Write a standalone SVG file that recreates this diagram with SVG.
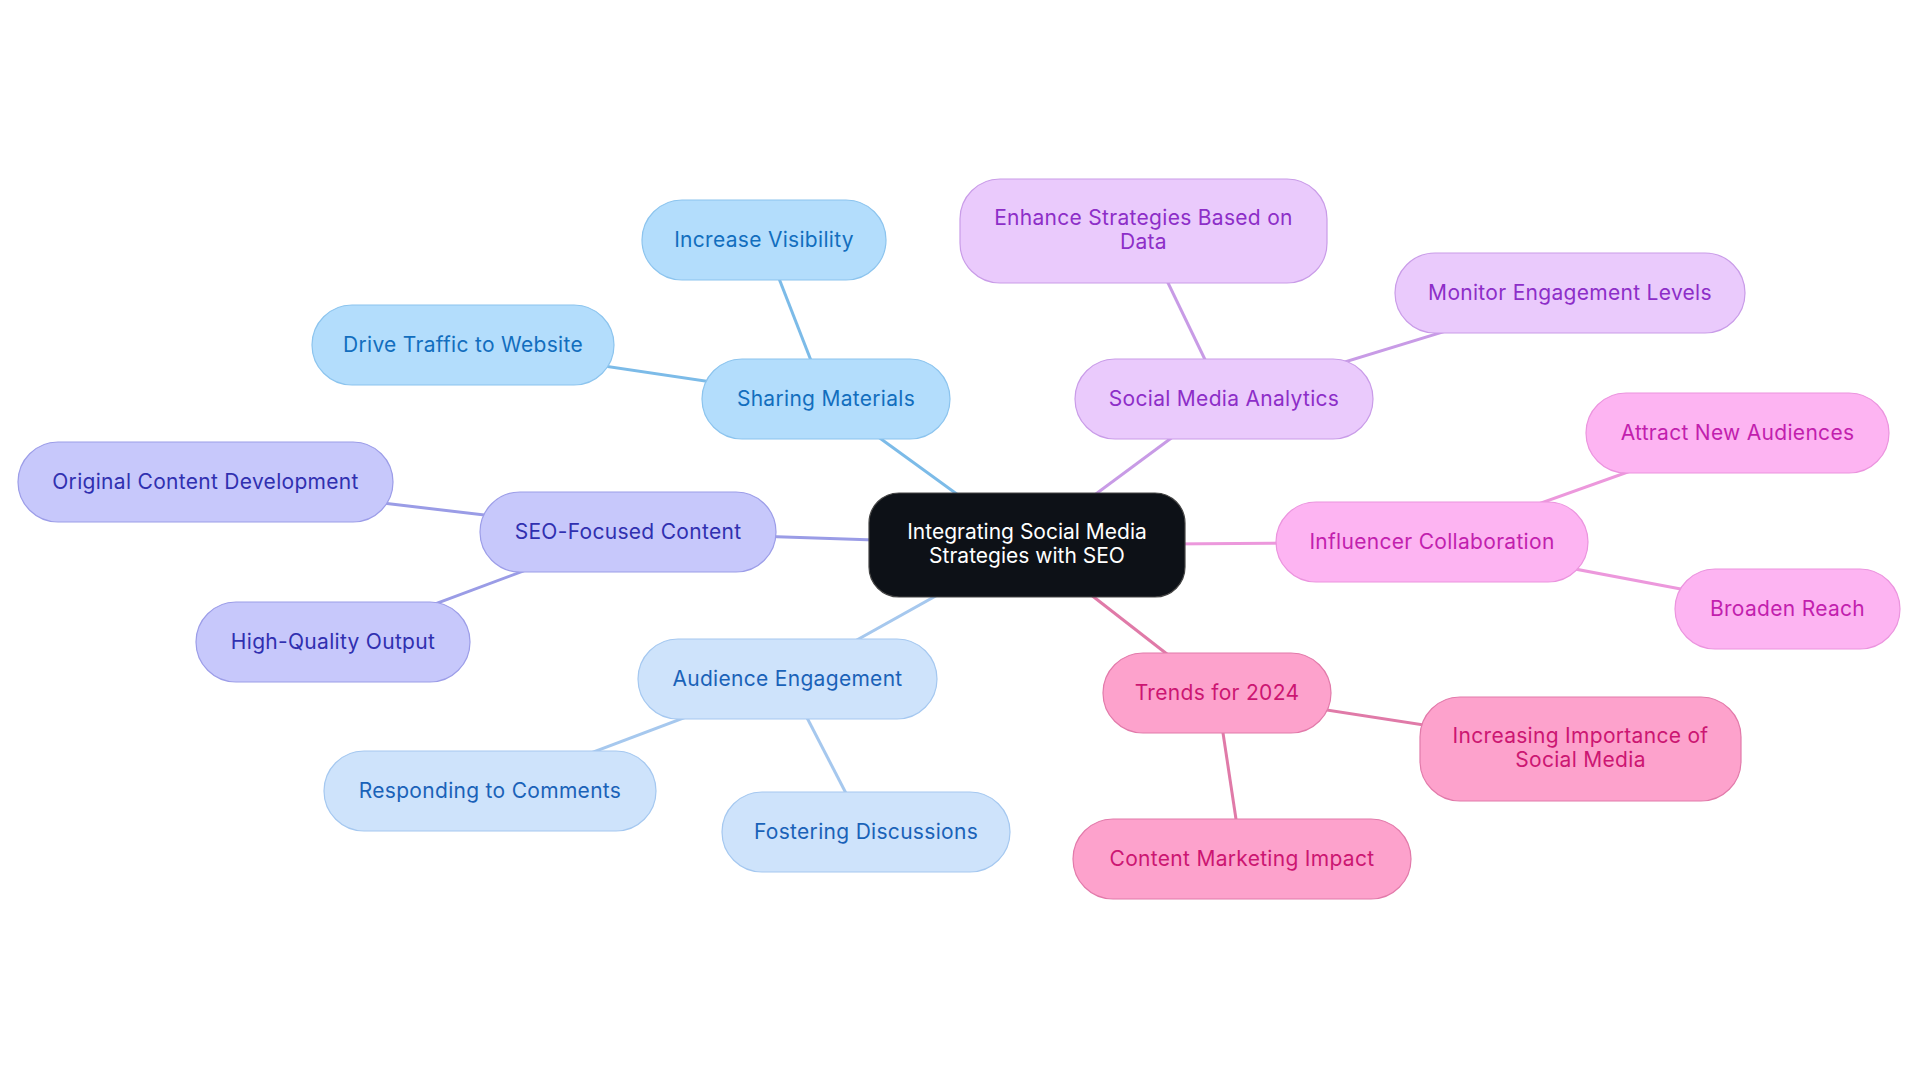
<svg xmlns="http://www.w3.org/2000/svg" width="1920" height="1083" viewBox="0 0 1920 1083">
<style>
text{font-family:Inter,"Noto Sans",sans-serif;font-size:21px;letter-spacing:0.3px;text-anchor:middle}
.edges line{stroke-width:3;fill:none}
.node rect{stroke-width:1.2}
.b rect{fill:#b3ddfc;stroke:#8cc4ee}.b text{fill:#126ebe}
.i rect{fill:#c7c8fb;stroke:#9c9de8}.i text{fill:#3030b0}
.l rect{fill:#cee3fb;stroke:#a5c8f0}.l text{fill:#1a62b8}
.p rect{fill:#eacafc;stroke:#c99ce8}.p text{fill:#8d2ec8}
.m rect{fill:#fdb4f2;stroke:#eb94de}.m text{fill:#c21fae}
.k rect{fill:#fda2cc;stroke:#e27aaa}.k text{fill:#cc1672}
.r rect{fill:#0d1117;stroke:#444}.r text{fill:#ffffff;font-size:21px;letter-spacing:0}
.eb{stroke:#7cbbe8}.ei{stroke:#9a9ce6}.el{stroke:#a6c8ee}.ep{stroke:#c89be6}.em{stroke:#ec98dc}.ek{stroke:#e07aa8}
</style>
<rect width="1920" height="1083" fill="#ffffff"/>
<g class="edges">
<line class="eb" x1="1027" y1="545" x2="826" y2="399"/>
<line class="eb" x1="826" y1="399" x2="764" y2="240"/>
<line class="eb" x1="826" y1="399" x2="463" y2="345"/>
<line class="ei" x1="1027" y1="545" x2="628" y2="532"/>
<line class="ei" x1="628" y1="532" x2="205" y2="482"/>
<line class="ei" x1="628" y1="532" x2="333" y2="642"/>
<line class="el" x1="1027" y1="545" x2="787" y2="679"/>
<line class="el" x1="787" y1="679" x2="490" y2="791"/>
<line class="el" x1="787" y1="679" x2="866" y2="832"/>
<line class="ep" x1="1027" y1="545" x2="1224" y2="399"/>
<line class="ep" x1="1224" y1="399" x2="1143" y2="231"/>
<line class="ep" x1="1224" y1="399" x2="1570" y2="293"/>
<line class="em" x1="1027" y1="545" x2="1432" y2="542"/>
<line class="em" x1="1432" y1="542" x2="1737" y2="433"/>
<line class="em" x1="1432" y1="542" x2="1787" y2="609"/>
<line class="ek" x1="1027" y1="545" x2="1217" y2="693"/>
<line class="ek" x1="1217" y1="693" x2="1580" y2="749"/>
<line class="ek" x1="1217" y1="693" x2="1242" y2="859"/>
</g>
<g id="root" class="node r"><rect x="869" y="493" width="316" height="104" rx="30"/><text x="1027" y="539">Integrating Social Media</text><text x="1027" y="563">Strategies with SEO</text></g>
<g id="sharing" class="node b"><rect x="702" y="359" width="248" height="80" rx="40"/><text x="826" y="406">Sharing Materials</text></g>
<g id="visibility" class="node b"><rect x="642" y="200" width="244" height="80" rx="40"/><text x="764" y="247">Increase Visibility</text></g>
<g id="traffic" class="node b"><rect x="312" y="305" width="302" height="80" rx="40"/><text x="463" y="352">Drive Traffic to Website</text></g>
<g id="seo" class="node i"><rect x="480" y="492" width="296" height="80" rx="40"/><text x="628" y="539">SEO-Focused Content</text></g>
<g id="original" class="node i"><rect x="18" y="442" width="375" height="80" rx="40"/><text x="205.5" y="489">Original Content Development</text></g>
<g id="quality" class="node i"><rect x="196" y="602" width="274" height="80" rx="40"/><text x="333" y="649">High-Quality Output</text></g>
<g id="audience" class="node l"><rect x="638" y="639" width="299" height="80" rx="40"/><text x="787.5" y="686">Audience Engagement</text></g>
<g id="responding" class="node l"><rect x="324" y="751" width="332" height="80" rx="40"/><text x="490" y="798">Responding to Comments</text></g>
<g id="fostering" class="node l"><rect x="722" y="792" width="288" height="80" rx="40"/><text x="866" y="839">Fostering Discussions</text></g>
<g id="analytics" class="node p"><rect x="1075" y="359" width="298" height="80" rx="40"/><text x="1224" y="406">Social Media Analytics</text></g>
<g id="enhance" class="node p"><rect x="960" y="179" width="367" height="104" rx="40"/><text x="1143.5" y="225">Enhance Strategies Based on</text><text x="1143.5" y="249">Data</text></g>
<g id="monitor" class="node p"><rect x="1395" y="253" width="350" height="80" rx="40"/><text x="1570" y="300">Monitor Engagement Levels</text></g>
<g id="influencer" class="node m"><rect x="1276" y="502" width="312" height="80" rx="40"/><text x="1432" y="549">Influencer Collaboration</text></g>
<g id="attract" class="node m"><rect x="1586" y="393" width="303" height="80" rx="40"/><text x="1737.5" y="440">Attract New Audiences</text></g>
<g id="broaden" class="node m"><rect x="1675" y="569" width="225" height="80" rx="40"/><text x="1787.5" y="616">Broaden Reach</text></g>
<g id="trends" class="node k"><rect x="1103" y="653" width="228" height="80" rx="40"/><text x="1217" y="700">Trends for 2024</text></g>
<g id="increasing" class="node k"><rect x="1420" y="697" width="321" height="104" rx="40"/><text x="1580.5" y="743">Increasing Importance of</text><text x="1580.5" y="767">Social Media</text></g>
<g id="content" class="node k"><rect x="1073" y="819" width="338" height="80" rx="40"/><text x="1242" y="866">Content Marketing Impact</text></g>
</svg>
